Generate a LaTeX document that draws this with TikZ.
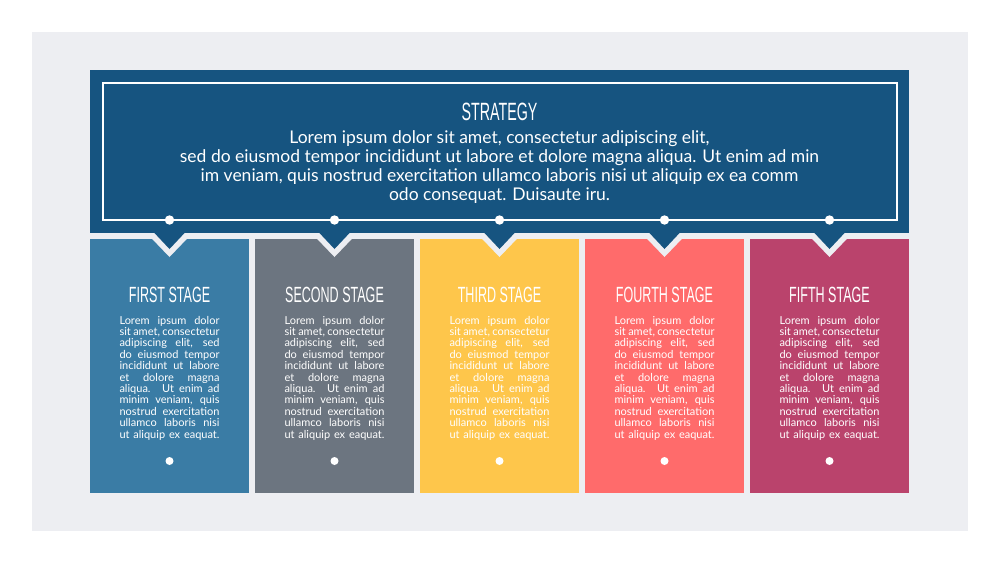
\documentclass[tikz,border=0pt]{standalone}
\usepackage{fontspec}
\setmainfont{Lato}
\newfontfamily\headfont[FakeStretch=0.57]{Liberation Sans}
\definecolor{bgpanel}{RGB}{237,238,242}
\definecolor{topblue}{RGB}{22,84,128}
\definecolor{cA}{RGB}{58,124,165}
\definecolor{cB}{RGB}{108,117,128}
\definecolor{cC}{RGB}{254,198,75}
\definecolor{cD}{RGB}{255,107,107}
\definecolor{cE}{RGB}{186,67,108}
\newcommand\stln[1]{\hbox to 100pt{\spaceskip=0.22em plus 1fil\relax #1}}
\newcommand\stagepar{\vbox{\baselineskip=11.4pt\lineskiplimit=-10pt
\stln{Lorem ipsum dolor}
\stln{sit amet, consectetur}
\stln{adipiscing elit, sed}
\stln{do eiusmod tempor}
\stln{incididunt ut labore}
\stln{et dolore magna}
\stln{aliqua. Ut enim ad}
\stln{minim veniam, quis}
\stln{nostrud exercitation}
\stln{ullamco laboris nisi}
\stln{ut aliquip ex eaquat.}}}
\tikzset{
  stagebox/.style={minimum width=159pt,minimum height=254pt,inner sep=0pt,anchor=north west},
  topbox/.style={fill=topblue,minimum width=819pt,minimum height=163pt,inner sep=0pt},
  stagetitle/.style={text=white,font=\headfont\fontsize{22}{22}\selectfont,inner sep=0pt},
  stagetext/.style={text=white,font=\fontsize{11}{11.4}\selectfont,inner sep=0pt},
  dotw/.style={fill=white},
}
\begin{document}
\begin{tikzpicture}[x=1pt,y=-1pt]
\useasboundingbox (0,0) rectangle (1000,563);
\fill[white] (0,0) rectangle (1000,563);
\fill[bgpanel] (32,32) rectangle (968,531);
\foreach \i/\c/\t in {1/cA/FIRST STAGE,2/cB/SECOND STAGE,3/cC/THIRD STAGE,4/cD/FOURTH STAGE,5/cE/FIFTH STAGE}{
  \pgfmathsetmacro\xl{90+165*(\i-1)}
  \pgfmathsetmacro\xc{\xl+79.5}
  \node[stagebox,fill=\c] (s\i) at (\xl,239) {};
  \fill[bgpanel] (\xc-24,232) -- (\xc,257) -- (\xc+24,232) -- cycle;
  \fill[topblue] (\xc-16,232) -- (\xc,249) -- (\xc+16,232) -- cycle;
  \node[stagetitle] (t\i) at (\xc,295) {\t};
  \node[stagetext] (p\i) at (\xc,378) {\stagepar};
  \fill[dotw] (\xc,461) circle (4);
}
\node[topbox] (top) at (499.5,151.5) {};
\draw[white,line width=1.3pt] (103,83) rectangle (897,220);
\node[text=white,font=\headfont\fontsize{25}{25}\selectfont,inner sep=0pt] (strat) at (499.5,112) {STRATEGY};
\node[text=white,font=\fontsize{17.5}{19}\selectfont,align=center,inner sep=0pt] (body) at (499.5,167) {Lorem ipsum dolor sit amet, consectetur adipiscing elit,\\sed do eiusmod tempor incididunt ut labore et dolore magna aliqua. Ut enim ad min\\im veniam, quis nostrud exercitation ullamco laboris nisi ut aliquip ex ea comm\\odo consequat. Duisaute iru.};
\foreach \i in {1,...,5}{
  \fill[dotw] (90+165*\i-165+79.5,220) circle (4.7);
}
\end{tikzpicture}
\end{document}
